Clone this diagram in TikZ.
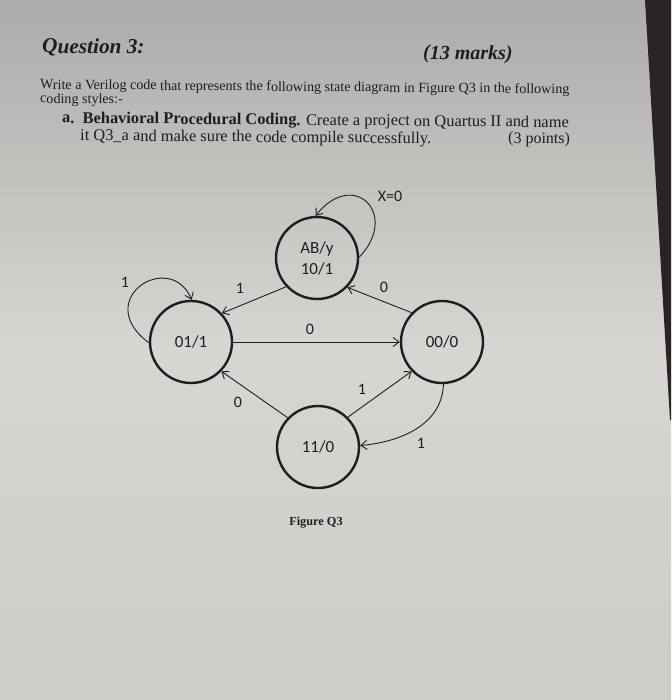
\documentclass[tikz,border=0pt]{standalone}
\usepackage{fontspec}
\setmainfont{Liberation Serif}
\newfontfamily\diagfont{Carlito}
\usetikzlibrary{arrows.meta}
\definecolor{pagetop}{HTML}{ACACAA}
\definecolor{pagemid}{HTML}{D6D6D2}
\definecolor{pagebot}{HTML}{CDCCC7}
\definecolor{inkc}{HTML}{1E1E1E}
\definecolor{edgec}{HTML}{2A2424}
\tikzset{
  statenode/.style={circle, draw=inkc, line width=2.4pt, minimum size=82pt, inner sep=0pt, font=\diagfont\fontsize{17}{20}\selectfont, text=inkc, align=center},
  edge/.style={draw=inkc, line width=0.9pt, -{Straight Barb[length=6pt,width=9pt,line width=0.9pt]}},
  lab/.style={font=\diagfont\fontsize{16}{19}\selectfont, text=inkc, inner sep=0pt},
  txt/.style={anchor=base west, inner sep=0pt, text=inkc, rotate=-0.5},
}
\begin{document}
\begin{tikzpicture}[x=1pt,y=-1pt]
\useasboundingbox (0,0) rectangle (671,700);
\shade[top color=pagetop, bottom color=pagebot, middle color=pagemid] (0,0) rectangle (671,700);
\fill[edgec] (645,0) -- (671,0) -- (671,420) -- (670,420) -- cycle;

% header text
\node[txt, font=\fontsize{21.3}{24}\selectfont\bfseries\itshape] (q) at (42,53) {Question 3:};
\node[txt, font=\fontsize{20}{23}\selectfont\bfseries\itshape] (m) at (423,59) {(13 marks)};
\node[txt, font=\fontsize{14.1}{15}\selectfont] (l1) at (40,89) {Write a Verilog code that represents the following state diagram in Figure Q3 in the following};
\node[txt, font=\fontsize{14.1}{15}\selectfont] (l2) at (40,103) {coding styles:-};
\node[txt, font=\fontsize{16.4}{18}\selectfont] (l3) at (62,123) {\textbf{a.\ \ Behavioral Procedural Coding.} Create a project on Quartus II and name};
\node[txt, font=\fontsize{16.4}{18}\selectfont] (l4) at (80,140.5) {it Q3\_a and make sure the code compile successfully.};
\node[txt, font=\fontsize{16}{18}\selectfont] (pts) at (508,143) {(3 points)};

% states
\node[statenode] (AB) at (317,258) {AB/y\\[1pt]10/1};
\node[statenode] (L) at (191,342) {01/1};
\node[statenode] (R) at (442,342) {00/0};
\node[statenode] (B) at (318,447) {11/0};

% connectors
\draw[edge] (AB.1) .. controls +(41,-43) and +(38,-48) .. (AB.92);
\draw[edge] (L.181) .. controls +(-58,-43) and +(-22,-51) .. (L.89);
\draw[edge] (AB.223) -- (L.43);
\draw[edge] (R.136) -- (AB.316);
\draw[edge] (L.0) -- (R.180);
\draw[edge] (B.136) -- (L.316);
\draw[edge] (B.45) -- (R.224);
\draw[edge] (R.272) to[out=268, in=5] (B.2);

% labels
\node[lab] (lx) at (390,196) {X=0};
\node[lab] (la) at (125,282) {1};
\node[lab] (lb) at (240,288) {1};
\node[lab] (lc) at (384,287) {0};
\node[lab] (ld) at (310,329) {0};
\node[lab] (le) at (238,402) {0};
\node[lab] (lf) at (362,389) {1};
\node[lab] (lg) at (421,443) {1};

\node[inner sep=0pt, font=\fontsize{12.3}{14}\selectfont\bfseries, text=inkc] (cap) at (316,523) {Figure Q3};
\end{tikzpicture}
\end{document}
